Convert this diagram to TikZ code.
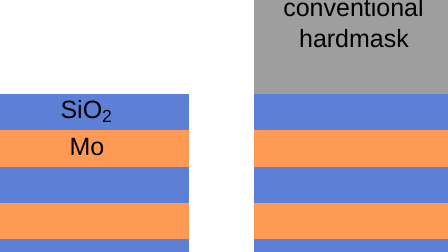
\documentclass[tikz,border=0pt]{standalone}
\usepackage{fontspec}
\setmainfont{Liberation Sans}
\definecolor{sio}{HTML}{5B80D5}
\definecolor{mo}{HTML}{FF9A55}
\definecolor{hm}{HTML}{9E9E9E}
\begin{document}
\begin{tikzpicture}[x=1pt,y=-1pt,
  lbl/.style={font=\fontsize{25}{31}\selectfont, text=black, inner sep=0pt, anchor=base, align=center}]
\useasboundingbox (0,0) rectangle (448,252);
\fill[white] (0,0) rectangle (448,252);
% left stack
\fill[sio] (0,94) rectangle (189,130);
\fill[mo]  (0,130) rectangle (189,167);
\fill[sio] (0,167) rectangle (189,203);
\fill[mo]  (0,203) rectangle (189,239);
\fill[sio] (0,239) rectangle (189,252);
% right stack
\fill[hm]  (254,0) rectangle (448,94);
\fill[sio] (254,94) rectangle (448,130);
\fill[mo]  (254,130) rectangle (448,167);
\fill[sio] (254,167) rectangle (448,203);
\fill[mo]  (254,203) rectangle (448,239);
\fill[sio] (254,239) rectangle (448,252);
% labels
\node[lbl] (sio2) at (86.5,118.5) {SiO\textsubscript{2}};
\node[lbl] (molbl) at (87,155) {Mo};
\node[lbl] (conv) at (353.5,16) {conventional};
\node[lbl] (hard) at (354,47) {hardmask};
\end{tikzpicture}
\end{document}
